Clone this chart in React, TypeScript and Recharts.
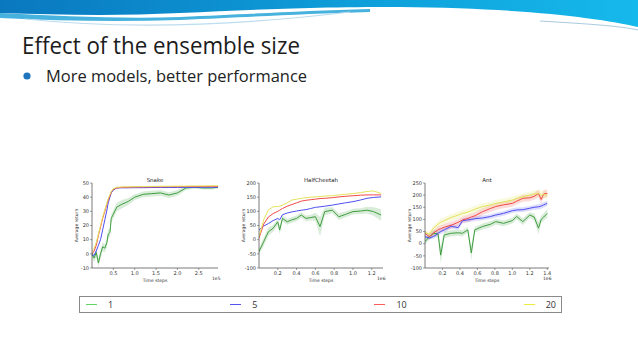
import { ComposedChart, Line, Area, XAxis, YAxis } from "recharts";

// series names (ensemble size)
const SERIES = ["1", "5", "10", "20"];
const LINE_COLORS = ["#3f9e3f", "#4f4ff2", "#f24a4a", "#e3e35c"];
const LEGEND_COLORS = ["#5fd65f", "#5656ee", "#ff5a5a", "#ecec3c"];

// Snake (time steps x1e5)
const snakeSteps = [0, 0.05, 0.1, 0.15, 0.2, 0.25, 0.3, 0.35, 0.38, 0.42, 0.45, 0.5, 0.58, 0.7, 0.85, 1.0, 1.2, 1.4, 1.6, 1.8, 2.0, 2.2, 2.4, 2.6, 2.8, 2.95];
const snake1 = [0, -3, 1, -6.5, 0, 5, 4, 8, 14, 15, 25, 28, 33, 35, 37, 40, 42, 42.5, 43, 41.5, 43, 46.5, 47, 46.5, 46.5, 47];
const snake1Spread = [2, 3, 3, 3, 3, 3, 3, 3, 3, 3, 3, 3, 3, 3, 2.5, 2, 2, 2, 2, 2, 2, 1.5, 1, 1, 1, 1];
const snake5 = [-1, -1, 2, 6, 10, 17, 24, 31, 36, 40, 43, 45, 46.5, 46.6, 46.6, 46.7, 46.7, 46.8, 46.8, 46.8, 46.8, 46.9, 46.9, 47, 47, 47];
const snake10 = [0, 2, 6, 13, 19, 25, 30, 35, 38, 41, 43.5, 45.5, 46.5, 47, 47, 47.2, 47.2, 47.3, 47.3, 47.4, 47.4, 47.5, 47.5, 47.6, 47.6, 47.6];
const snake20 = [2, 4, 8, 14, 20, 26, 31, 36, 39, 42, 44, 46, 47, 47.2, 47.3, 47.4, 47.5, 47.6, 47.7, 47.7, 47.8, 47.8, 47.9, 47.9, 48, 48];
const snakeYTicks = [-10, 0, 10, 20, 30, 40, 50];
const snakeXTicks = [0.5, 1.0, 1.5, 2.0, 2.5];

// HalfCheetah (time steps x1e6)
const cheetahSteps = [0, 0.05, 0.1, 0.15, 0.2, 0.22, 0.25, 0.3, 0.35, 0.4, 0.45, 0.5, 0.55, 0.6, 0.65, 0.7, 0.78, 0.85, 0.92, 1.0, 1.08, 1.15, 1.22, 1.3];
const cheetah1 = [-42, -7, 28, 40, 63, 34, 75, 63, 70, 75, 87, 75, 78, 81, 46, 99, 104, 81, 89, 99, 101, 104, 99, 87];
const cheetah1Spread = [10, 15, 15, 12, 10, 15, 10, 10, 10, 10, 10, 10, 10, 14, 35, 14, 10, 12, 10, 10, 10, 12, 15, 20];
const cheetah5 = [34, 48, 57, 67, 75, 70, 88, 94, 98, 101, 104, 106, 110, 114, 116, 118, 122, 126, 130, 134, 140, 146, 149, 151];
const cheetah10 = [5, 55, 80, 92, 100, 104, 110, 118, 124, 130, 136, 139, 141, 143, 145, 146, 148, 151, 153, 155, 157, 158, 158, 158];
const cheetah20 = [10, 70, 105, 116, 117, 118, 122, 130, 140, 143, 146, 148, 150, 151, 152, 154, 155, 158, 160, 163, 166, 170, 172, 163];
const cheetahYTicks = [-100, -50, 0, 50, 100, 150, 200];
const cheetahXTicks = [0.2, 0.4, 0.6, 0.8, 1.0, 1.2];

// Ant (time steps x1e6)
const antSteps = [0, 0.05, 0.1, 0.15, 0.18, 0.22, 0.3, 0.38, 0.43, 0.49, 0.53, 0.57, 0.66, 0.75, 0.81, 0.9, 1.0, 1.05, 1.12, 1.2, 1.25, 1.3, 1.33, 1.36, 1.4];
const ant1 = [8, 29, 43, 40, -47, 36, 43, 45, 43, 57, -38, 57, 71, 80, 91, 84, 95, 112, 91, 118, 110, 64, 100, 110, 125];
const ant1Spread = [12, 12, 12, 15, 35, 15, 12, 12, 12, 12, 30, 12, 12, 12, 12, 12, 12, 12, 14, 12, 14, 25, 15, 15, 18];
const ant5 = [29, 23, 30, 43, 50, 57, 72, 66, 95, 98, 100, 103, 106, 112, 118, 125, 136, 139, 140, 146, 150, 152, 155, 160, 166];
const ant10 = [43, 29, 45, 58, 62, 68, 76, 88, 98, 104, 110, 115, 132, 145, 153, 160, 166, 175, 187, 189, 195, 207, 182, 205, 207];
const ant20 = [45, 40, 65, 80, 88, 95, 108, 118, 125, 130, 136, 142, 153, 160, 166, 172, 180, 187, 193, 200, 205, 207, 200, 203, 200];
const antSpread = [10, 10, 12, 14, 14, 14, 14, 14, 14, 14, 14, 14, 14, 14, 14, 14, 14, 14, 14, 14, 14, 16, 16, 16, 16];
const antYTicks = [-100, -50, 0, 50, 100, 150, 200, 250];
const antXTicks = [0.2, 0.4, 0.6, 0.8, 1.0, 1.2, 1.4];

type Row = Record<string, any>;

function buildRows(steps: number[], s: number[][], spread1: number[], spreadOthers?: number[]): Row[] {
  return steps.map((x, i) => {
    const row: Row = { x };
    SERIES.forEach((name, k) => {
      row["s" + name] = s[k][i];
    });
    row.b1 = [s[0][i] - spread1[i], s[0][i] + spread1[i]];
    if (spreadOthers) {
      row.b5 = [s[1][i] - spreadOthers[i] * 0.7, s[1][i] + spreadOthers[i] * 0.7];
      row.b10 = [s[2][i] - spreadOthers[i], s[2][i] + spreadOthers[i]];
      row.b20 = [s[3][i] - spreadOthers[i], s[3][i] + spreadOthers[i]];
    }
    return row;
  });
}

const snakeRows = buildRows(snakeSteps, [snake1, snake5, snake10, snake20], snake1Spread);
const cheetahRows = buildRows(cheetahSteps, [cheetah1, cheetah5, cheetah10, cheetah20], cheetah1Spread);
const antRows = buildRows(antSteps, [ant1, ant5, ant10, ant20], ant1Spread, antSpread);

const FONT = "DejaVu Sans";
const tickStyle = { fontSize: 5, fill: "#333", fontFamily: FONT };

function SmallChart(props: {
  title: string;
  exp: string;
  rows: Row[];
  left: number;
  width: number;
  xDomain: [number, number];
  xTicks: number[];
  yDomain: [number, number];
  yTicks: number[];
  bands: string[];
}) {
  const { title, exp, rows, left, width, xDomain, xTicks, yDomain, yTicks, bands } = props;
  const top = 172;
  const height = 112;
  const plotLeft = 22;
  const plotRight = width - 12;
  return (
    <div style={{ position: "absolute", left, top, width, height }}>
      <div
        style={{
          position: "absolute",
          left: plotLeft,
          width: plotRight - plotLeft,
          top: 5,
          textAlign: "center",
          fontSize: 5.5,
          fontFamily: FONT,
          color: "#222",
          lineHeight: "6px",
        }}
      >
        {title}
      </div>
      <div
        style={{
          position: "absolute",
          left: plotRight - 6,
          top: 104,
          fontSize: 4.5,
          fontFamily: FONT,
          color: "#333",
          lineHeight: "5px",
        }}
      >
        {exp}
      </div>
      <ComposedChart width={width} height={height} data={rows} margin={{ top: 11, right: 12, left: 0, bottom: 0 }}>
        <XAxis
          dataKey="x"
          type="number"
          domain={xDomain}
          ticks={xTicks}
          allowDataOverflow
          tickFormatter={(v: number) => v.toFixed(1)}
          tick={tickStyle}
          tickSize={2}
          tickMargin={1}
          height={16}
          axisLine={{ stroke: "#444", strokeWidth: 0.7 }}
          tickLine={{ stroke: "#444", strokeWidth: 0.5 }}
          label={{ value: "Time steps", position: "insideBottom", offset: 2, style: { fontSize: 4.5, fill: "#333", fontFamily: FONT } }}
        />
        <XAxis
          xAxisId="top"
          dataKey="x"
          type="number"
          domain={xDomain}
          orientation="top"
          tick={false}
          tickLine={false}
          height={0}
          axisLine={{ stroke: "#444", strokeWidth: 0.7 }}
        />
        <YAxis
          type="number"
          domain={yDomain}
          ticks={yTicks}
          allowDataOverflow
          tick={tickStyle}
          tickSize={2}
          tickMargin={1}
          width={22}
          axisLine={{ stroke: "#444", strokeWidth: 0.7 }}
          tickLine={{ stroke: "#444", strokeWidth: 0.5 }}
          label={{
            value: "Average return",
            angle: -90,
            position: "insideLeft",
            offset: 6,
            style: { fontSize: 4.5, fill: "#333", fontFamily: FONT, textAnchor: "middle" },
          }}
        />
        <YAxis
          yAxisId="right"
          orientation="right"
          domain={yDomain}
          tick={false}
          tickLine={false}
          width={0}
          axisLine={{ stroke: "#444", strokeWidth: 0.7 }}
        />
        {bands.map((b) => {
          const k = SERIES.indexOf(b);
          return (
            <Area
              key={"b" + b}
              dataKey={"b" + b}
              stroke="none"
              fill={LINE_COLORS[k]}
              fillOpacity={0.2}
              isAnimationActive={false}
            />
          );
        })}
        {SERIES.map((name, k) => (
          <Line
            key={name}
            dataKey={"s" + name}
            stroke={LINE_COLORS[k]}
            strokeWidth={1}
            dot={false}
            isAnimationActive={false}
          />
        ))}
      </ComposedChart>
    </div>
  );
}

export default function App() {
  return (
    <div style={{ position: "absolute", left: 0, top: 0, width: 638, height: 359, background: "#fff", overflow: "hidden" }}>
      <svg width={638} height={100} style={{ position: "absolute", left: 0, top: 0 }}>
        <defs>
          <linearGradient id="hdr" x1="0" x2="1" y1="0" y2="0">
            <stop offset="0" stopColor="#0a78bf" />
            <stop offset="0.55" stopColor="#0e9ed9" />
            <stop offset="1" stopColor="#16b9eb" />
          </linearGradient>
        </defs>
        <path d="M0,13 C60,16 120,19 180,17 C250,14 300,11 370,9 L370,12 C300,14 250,17 180,20 C120,22 60,21 0,18 Z" fill="#46b2dd" />
        <path d="M0,0 H638 V27 C600,18 520,8 400,7 C300,7 250,10 180,13 C120,16 60,15 0,13 Z" fill="url(#hdr)" />
        <path d="M25,19 C100,27 200,30 350,12" stroke="#bcdcef" strokeWidth={1.2} fill="none" />
        <path d="M540,21 C590,24 620,26 638,30" stroke="#a9cadf" strokeWidth={1} fill="none" />
        <text x={22} y={54} fontSize={24} textLength={278} lengthAdjust="spacingAndGlyphs" fontFamily="Open Sans" fill="#1c1c1c">
          Effect of the ensemble size
        </text>
        <circle cx={27} cy={76} r={3.6} fill="#1f74be" />
        <text x={46} y={82} fontSize={17} textLength={261} lengthAdjust="spacingAndGlyphs" fontFamily="Open Sans" fill="#222">
          More models, better performance
        </text>
      </svg>

      <SmallChart
        title="Snake"
        exp="1e5"
        rows={snakeRows}
        left={70}
        width={160}
        xDomain={[0, 2.95]}
        xTicks={snakeXTicks}
        yDomain={[-10, 50]}
        yTicks={snakeYTicks}
        bands={["1"]}
      />
      <SmallChart
        title="HalfCheetah"
        exp="1e6"
        rows={cheetahRows}
        left={237}
        width={158}
        xDomain={[0, 1.32]}
        xTicks={cheetahXTicks}
        yDomain={[-100, 200]}
        yTicks={cheetahYTicks}
        bands={["1"]}
      />
      <SmallChart
        title="Ant"
        exp="1e6"
        rows={antRows}
        left={403}
        width={158}
        xDomain={[0, 1.42]}
        xTicks={antXTicks}
        yDomain={[-100, 250]}
        yTicks={antYTicks}
        bands={["1", "5", "10", "20"]}
      />

      <div
        style={{
          position: "absolute",
          left: 79,
          top: 296,
          width: 470,
          height: 15,
          border: "1px solid #8a8a8a",
          display: "flex",
          alignItems: "center",
          justifyContent: "space-between",
          padding: "0 5px 0 6px",
          boxSizing: "content-box",
          fontFamily: "Open Sans",
          fontSize: 9,
          color: "#333",
        }}
      >
        {SERIES.map((name, k) => (
          <div key={name} style={{ display: "flex", alignItems: "center" }}>
            <span style={{ display: "inline-block", width: 11, height: 1.5, background: LEGEND_COLORS[k], marginRight: 11 }} />
            <span>{name}</span>
          </div>
        ))}
      </div>
    </div>
  );
}
